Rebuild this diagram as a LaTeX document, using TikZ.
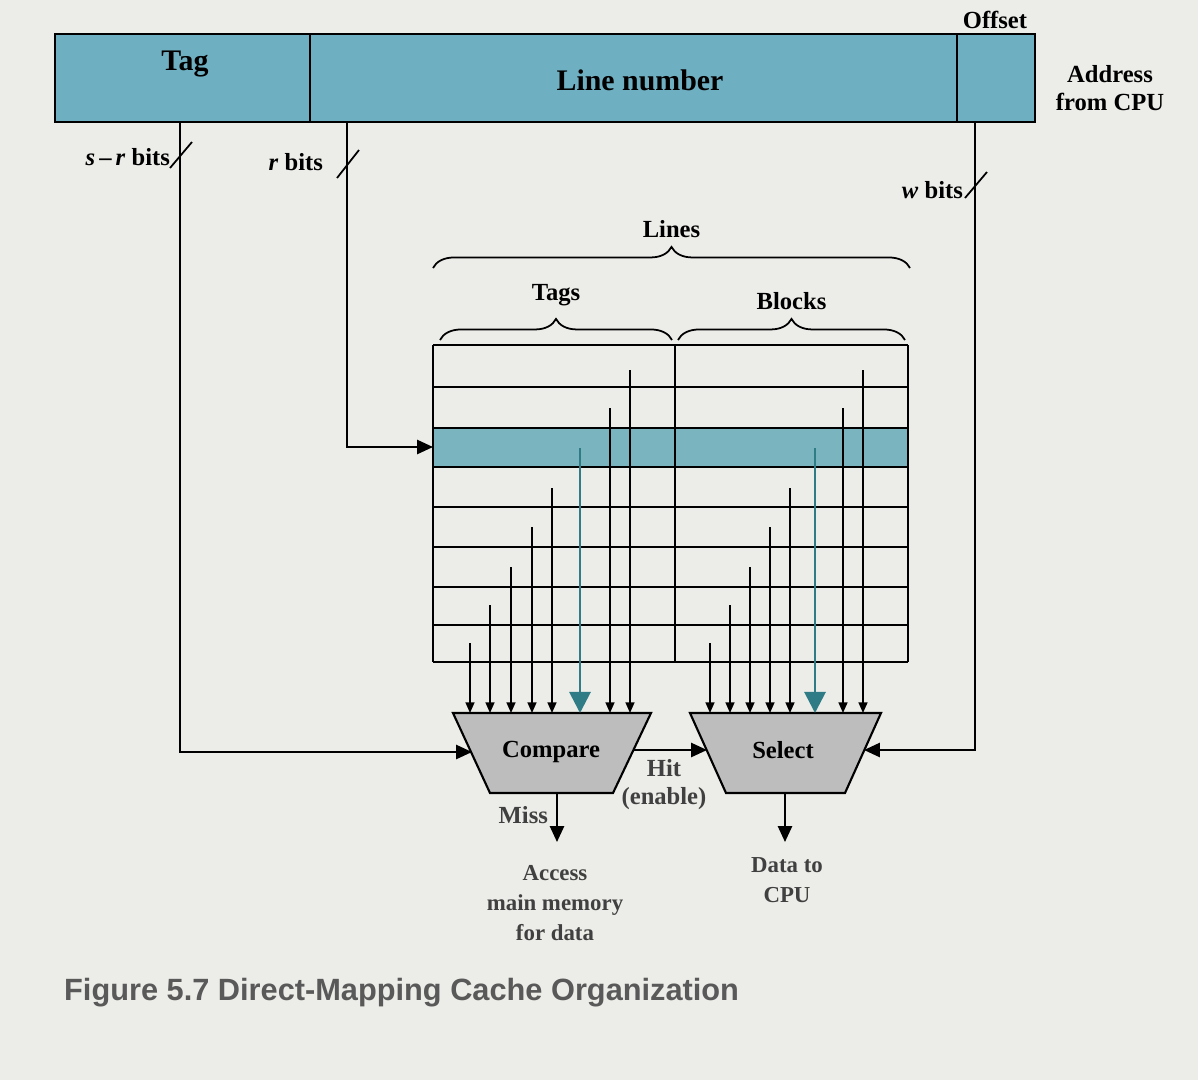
\documentclass[tikz,border=0pt]{standalone}
\usepackage{fontspec}
\setmainfont{Liberation Serif}
\setsansfont{Liberation Sans}
\usetikzlibrary{arrows.meta,decorations.pathreplacing}
\definecolor{bg}{HTML}{ECECE8}
\definecolor{addr}{HTML}{6FAFC2}
\definecolor{hl}{HTML}{79B4BF}
\definecolor{tealarr}{HTML}{2F7C86}
\definecolor{trap}{HTML}{BDBDBD}
\begin{document}
\begin{tikzpicture}[x=0.02cm,y=-0.02cm,
  lbl/.style={font=\bfseries\fontsize{14}{16}\selectfont,inner sep=1pt},
  big/.style={font=\bfseries\fontsize{17}{19}\selectfont},
  wire/.style={line width=1.2pt},
  arr/.style={line width=1pt,-{Triangle[length=6pt,width=5pt]}},
  tarr/.style={line width=1.6pt,color=tealarr,-{Triangle[length=12pt,width=12pt]}},
  brc/.style={decorate,decoration={brace,amplitude=12pt},line width=1pt}]
\fill[bg] (0,0) rectangle (1198,1080);
\useasboundingbox (0,0) rectangle (1198,1080);
% address box
\draw[fill=addr,line width=1.5pt] (55,34) rectangle (1035,122);
\draw[line width=1.5pt] (310,34) -- (310,122) (957,34) -- (957,122);
\node[big] (tag) at (185,64) {Tag};
\node[big] (ln) at (640,80) {Line number};
\node[lbl] (off) at (995,20) {Offset};
\node[lbl,align=center] (addrcpu) at (1110,88) {Address\\from CPU};
% grid
\fill[hl] (433,428) rectangle (908,467);
\foreach \y in {345,387,428,467,507,547,587,625,662}
  \draw[line width=1.4pt] (433,\y) -- (908,\y);
\draw[line width=1.4pt] (433,345) -- (433,662) (908,345) -- (908,662) (675,345) -- (675,662);
\coordinate (gridleft) at (433,447);
% braces
\draw[brc] (433,268) -- (910,268) node[midway,above=16pt,lbl] (lines) {Lines};
\draw[brc] (440,340) -- (672,340) node[midway,above=18pt,lbl] (tags) {Tags};
\draw[brc] (678,340) -- (905,340) node[midway,above=16pt,lbl] (blocks) {Blocks};
% trapezoids
\draw[fill=trap,line width=1.2pt] (453,713) -- (651,713) -- (613,793) -- (490,793) -- cycle;
\node[lbl] (cmp) at (551,752) {Compare};
\draw[fill=trap,line width=1.2pt] (690,713) -- (881,713) -- (845,793) -- (726,793) -- cycle;
\node[lbl] (sel) at (783,750) {Select};
% tag arrows
\foreach \x/\s in {470/643,490/605,511/567,532/527,552/488,610/408,630/370}
  \draw[arr] (\x,\s) -- (\x,713);
\draw[tarr] (580,448) -- (580,713);
\foreach \x/\s in {710/643,730/605,750/567,770/527,790/488,843/408,863/370}
  \draw[arr] (\x,\s) -- (\x,713);
\draw[tarr] (815,448) -- (815,713);
% wires
\coordinate (srtop) at (180,122);
\coordinate (rtop) at (347,122);
\coordinate (wtop) at (975,122);
\draw[wire,-{Triangle[length=9pt,width=8pt]}] (srtop) -- (180,752) -- (472,752);
\draw[wire,-{Triangle[length=9pt,width=8pt]}] (rtop) -- (347,447) -- (gridleft);
\draw[wire,-{Triangle[length=9pt,width=8pt]}] (wtop) -- (975,750) -- (864,750);
\draw[wire,-{Triangle[length=9pt,width=8pt]}] (633,750) -- (707,750);
% slashes
\draw[line width=1pt] (170,168) -- (192,142) (337,178) -- (359,150) (965,198) -- (987,172);
\node[lbl,anchor=east] (srb) at (172,157) {\textit{s}\,–\,\textit{r} bits};
\node[lbl,anchor=east] (rb) at (325,162) {\textit{r} bits};
\node[lbl,anchor=east] (wb) at (965,190) {\textit{w} bits};
% outputs
\draw[wire,-{Triangle[length=9pt,width=8pt]}] (557,793) -- (557,842);
\draw[wire,-{Triangle[length=9pt,width=8pt]}] (785,793) -- (785,842);
\node[lbl,anchor=east,text=black!75] (miss) at (550,815) {Miss};
\node[lbl,align=center,text=black!75] (hit) at (664,785) {Hit\\(enable)};
\node[lbl,align=center,text=black!75,font=\bfseries\fontsize{13}{17}\selectfont] (acc) at (555,903) {Access\\main memory\\for data};
\node[lbl,align=center,text=black!75,font=\bfseries\fontsize{13}{17}\selectfont] (dcpu) at (787,880) {Data to\\CPU};
\node[anchor=west,font=\sffamily\bfseries\fontsize{17.5}{19}\selectfont,text=black!65] (cap) at (58,993) {Figure 5.7 Direct-Mapping Cache Organization};
\end{tikzpicture}
\end{document}
